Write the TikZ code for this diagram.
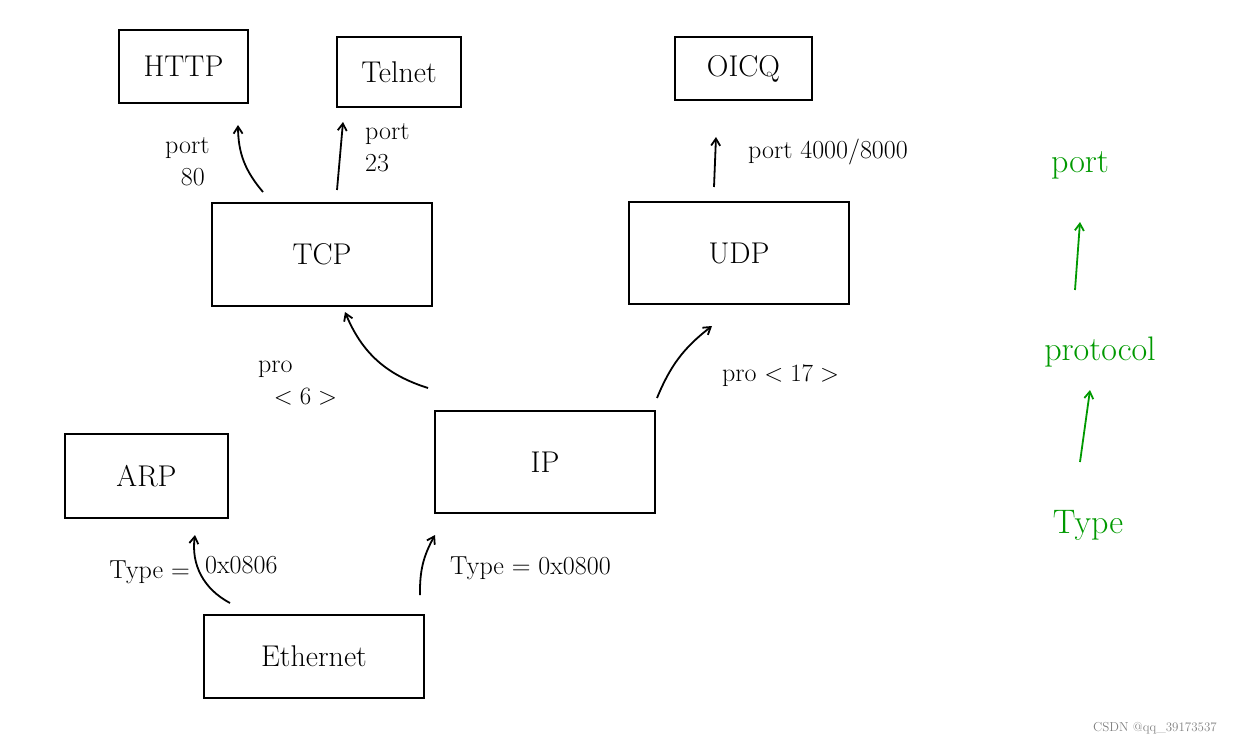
\documentclass[tikz,border=0pt]{standalone}
\usepackage{fontspec}
\setmainfont{Latin Modern Roman}
\usetikzlibrary{arrows.meta}
\begin{document}
\begin{tikzpicture}[x=1pt,y=-1pt,
  box/.style={draw,line width=1.2pt,inner sep=0pt},
  hand/.style={font=\fontsize{30}{32}\selectfont},
  lbl/.style={font=\fontsize{26}{30}\selectfont,align=left,inner sep=0pt},
  arr/.style={-{Straight Barb[length=7pt,width=9pt]},line width=1.8pt},
  garr/.style={arr,draw=green!60!black},
  glbl/.style={font=\fontsize{34}{36}\selectfont,text=green!60!black}]
\useasboundingbox (0,0) rectangle (1255,746);
\node[box,minimum width=129pt,minimum height=73pt,hand] (http) at (183.5,66.5) {HTTP};
\node[box,minimum width=124pt,minimum height=70pt,hand] (telnet) at (399,72) {Telnet};
\node[box,minimum width=137pt,minimum height=63pt,hand] (oicq) at (743.5,68.5) {OICQ};
\node[box,minimum width=220pt,minimum height=103pt,hand] (tcp) at (322,254.5) {TCP};
\node[box,minimum width=220pt,minimum height=102pt,hand] (udp) at (739,253) {UDP};
\node[box,minimum width=220pt,minimum height=102pt,hand] (ip) at (545,462) {IP};
\node[box,minimum width=163pt,minimum height=84pt,hand] (arp) at (146.5,476) {ARP};
\node[box,minimum width=220pt,minimum height=83pt,hand] (eth) at (314,656.5) {Ethernet};
\coordinate (t1) at (263,192); \coordinate (h1) at (238,125);
\draw[arr] (t1) to[bend left=20] (h1);
\node[lbl,anchor=west] (l1) at (165,162) {port\\[2pt]\ \ 80};
\coordinate (t2) at (337,190); \coordinate (te1) at (343,122);
\draw[arr] (t2) -- (te1);
\node[lbl,anchor=west] (l2) at (365,148) {port\\[2pt]23};
\coordinate (u1) at (714,187); \coordinate (o1) at (716,137);
\draw[arr] (u1) -- (o1);
\node[lbl,anchor=west] (l3) at (748,152) {port 4000/8000};
\coordinate (i1) at (428,388); \coordinate (tc1) at (345,312);
\draw[arr] (i1) to[bend left=25] (tc1);
\node[lbl,anchor=west] (l4) at (258,383) {pro\\[2pt]\ \ $<6>$};
\coordinate (i2) at (657,398); \coordinate (ud1) at (712,326);
\draw[arr] (i2) to[bend left=15] (ud1);
\node[lbl,anchor=west] (l5) at (722,376) {pro $<17>$};
\coordinate (e1) at (230,603); \coordinate (a1) at (195,535);
\draw[arr] (e1) to[bend left=35] (a1);
\node[lbl,anchor=east] (l6a) at (190,572) {Type =};
\node[lbl,anchor=west] (l6b) at (205,565) {0x0806};
\coordinate (e2) at (420,595); \coordinate (ip1) at (435,535);
\draw[arr] (e2) to[bend left=15] (ip1);
\node[lbl,anchor=west] (l7) at (450,568) {Type = 0x0800};
\node[glbl] (gport) at (1080,165) {port};
\node[glbl] (gproto) at (1100,352) {protocol};
\node[glbl] (gtype) at (1088,525) {Type};
\draw[garr] (1075,290) -- (1080,222);
\draw[garr] (1080,462) -- (1090,390);
\node[font=\fontsize{13}{14}\selectfont,text=gray] (wm) at (1155,728) {CSDN @qq\_39173537};
\end{tikzpicture}
\end{document}
